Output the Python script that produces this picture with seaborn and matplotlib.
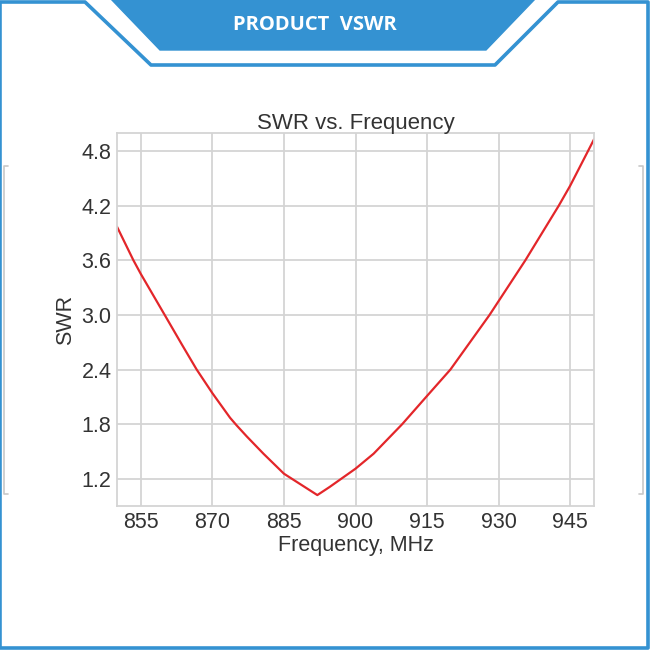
import pandas as pd
import matplotlib
matplotlib.use("Agg")
import matplotlib.pyplot as plt
import seaborn as sns
from matplotlib.patches import Polygon
from matplotlib.lines import Line2D

# donnees
freq = [850, 853.45, 855, 860, 863.6, 866.7, 870, 873.7, 875.1, 877.2,
        880.7, 885, 892, 894.6, 900, 903.8, 907.4, 909.8, 915, 919.9,
        928.1, 935.6, 942.6, 945, 950]
swr = [3.97, 3.6, 3.45, 3.0, 2.675, 2.4, 2.14, 1.87, 1.785, 1.665,
       1.475, 1.255, 1.02, 1.11, 1.31, 1.475, 1.67, 1.8, 2.11, 2.4,
       3.0, 3.6, 4.2, 4.42, 4.93]
x_ticks = [855, 870, 885, 900, 915, 930, 945]
y_ticks = [1.2, 1.8, 2.4, 3.0, 3.6, 4.2, 4.8]

df = pd.DataFrame({"Frequency": freq, "SWR": swr})

sns.set_style("whitegrid")
plt.rcParams['font.family'] = ['Liberation Sans', 'DejaVu Sans']

W = H = 650
blue = "#3492d2"
grid_c = "#d4d4d4"
txt_c = "#333333"

fig = plt.figure(figsize=(6.5, 6.5), dpi=100)


def px(x, y):
    # pixels (origine en haut a gauche) -> fraction de figure
    return (x / W, 1 - y / H)


# cadre bleu et bandeau
frame = [px(0, 648), px(0, 2), px(85, 2), px(151, 65), px(495, 65),
         px(558, 2), px(648, 2), px(648, 648)]
fig.add_artist(Polygon(frame, closed=True, fill=False, edgecolor=blue,
                       linewidth=2.6, transform=fig.transFigure,
                       joinstyle="round"))
inner = [px(110, -2), px(536, -2), px(486, 50), px(160, 50)]
fig.add_artist(Polygon(inner, closed=True, facecolor=blue, edgecolor=blue,
                       linewidth=1, transform=fig.transFigure))
fig.text(315 / W, 1 - 25 / H, "PRODUCT  VSWR", color="white",
         fontsize=14.5, fontweight="bold", family=["Open Sans", "DejaVu Sans"],
         ha="center", va="center")

# crochets gris sur les cotes
for xs in ([8, 4, 4, 8], [639, 643, 643, 639]):
    ys = [166, 166, 494, 494]
    fig.add_artist(Line2D([x / W for x in xs], [1 - y / H for y in ys],
                          color="#c8c8c8", linewidth=1.2,
                          transform=fig.transFigure))

# graphique
ax = fig.add_axes([117 / W, 1 - 506 / H, (594 - 117) / W, (506 - 133) / H])
sns.lineplot(data=df, x="Frequency", y="SWR", ax=ax, color="#e3262a",
             linewidth=1.6)
ax.set_xlim(850, 950)
ax.set_ylim(0.9, 5.0)
ax.set_xticks(x_ticks)
ax.set_yticks(y_ticks)
ax.set_yticklabels([f"{v:.1f}" for v in y_ticks])
ax.grid(True, color=grid_c, linewidth=1.3)
for s in ax.spines.values():
    s.set_color(grid_c)
    s.set_linewidth(1.3)
ax.tick_params(length=0, labelsize=15.5, labelcolor=txt_c, pad=4)
ax.set_title("SWR vs. Frequency", fontsize=16, color=txt_c, pad=3)
ax.set_xlabel("Frequency, MHz", fontsize=15.5, color=txt_c, labelpad=2)
ax.set_ylabel("SWR", fontsize=15.5, color=txt_c, labelpad=4)

fig.savefig("out.png", dpi=100)
